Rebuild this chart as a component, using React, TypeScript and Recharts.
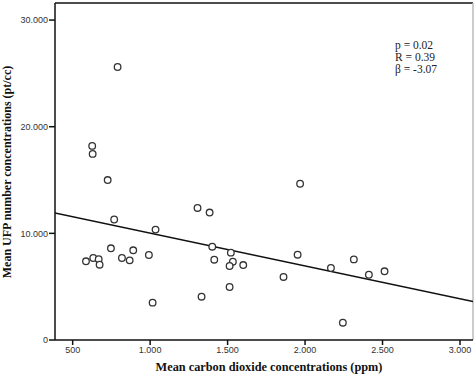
import { ComposedChart, Scatter, XAxis, YAxis, ReferenceLine } from 'recharts'

// CO2 (ppm) vs UFP (pt/cc)
const co2 = [
  790, 626, 629, 726, 768, 1035, 747, 586, 633, 668, 674, 818, 868, 891, 992, 1016,
  1306, 1384, 1401, 1521, 1414, 1534, 1513, 1601, 1332, 1513,
  1968, 1952, 1861, 2167, 2315, 2412, 2513, 2244,
]
const ufp = [
  25600, 18200, 17450, 15000, 11300, 10350, 8600, 7380, 7690, 7570, 7060, 7690, 7470, 8410, 7970, 3500,
  12380, 11950, 8750, 8190, 7530, 7340, 6940, 7030, 4060, 4970,
  14650, 8000, 5910, 6750, 7560, 6120, 6440, 1620,
]

// fitted regression line end points
const fitX = [386, 3084]
const fitY = [11900, 3620]

const xTicks = [500, 1000, 1500, 2000, 2500, 3000]
const yTicks = [0, 10000, 20000, 30000]
const stats = ['p = 0.02', 'R = 0.39', 'β = -3.07']

const points = co2.map((x, i) => ({ x, y: ufp[i] }))
const fit = fitX.map((x, i) => ({ x, y: fitY[i] }))

const fmt = (v: number) => v.toLocaleString('de-DE')

const Ring = (props: any) => (
  <circle cx={props.cx} cy={props.cy} r={3.3} fill="#fff" stroke="#333" strokeWidth={1.3} />
)

export default function App() {
  return (
    <div style={{ position: 'absolute', left: 0, top: 0, background: '#fff' }}>
      <ComposedChart width={474} height={374} margin={{ top: 3, right: 1, bottom: 0, left: 0 }}>
        <XAxis
          type="number"
          dataKey="x"
          domain={[386, 3084]}
          ticks={xTicks}
          tickFormatter={fmt}
          allowDataOverflow
          height={34}
          tickSize={5}
          tickMargin={2}
          stroke="#111"
          strokeWidth={1.5}
          tick={{ fill: '#333', fontSize: 9, fontFamily: 'Liberation Sans' }}
        />
        <YAxis
          type="number"
          dataKey="y"
          domain={[0, 31600]}
          ticks={yTicks}
          tickFormatter={fmt}
          allowDataOverflow
          width={55}
          tickSize={6}
          tickMargin={1}
          stroke="#111"
          strokeWidth={1.5}
          tick={{ fill: '#333', fontSize: 9, fontFamily: 'Liberation Sans' }}
        />
        <ReferenceLine y={31600} stroke="#111" strokeWidth={1.5} />
        <ReferenceLine x={3084} stroke="#bbb" strokeWidth={1.5} />
        <Scatter
          data={fit}
          line={{ stroke: '#111', strokeWidth: 1.5 }}
          shape={() => null}
          isAnimationActive={false}
        />
        <Scatter data={points} shape={Ring} isAnimationActive={false} />
        <text
          x={269}
          y={371}
          textAnchor="middle"
          fontFamily="Liberation Serif"
          fontWeight="bold"
          fontSize={12.3}
          fill="#111"
        >
          Mean carbon dioxide concentrations (ppm)
        </text>
        <text
          transform="translate(10.5,172) rotate(-90)"
          textAnchor="middle"
          fontFamily="Liberation Serif"
          fontWeight="bold"
          fontSize={12}
          fill="#111"
        >
          Mean UFP number concentrations (pt/cc)
        </text>
        {stats.map((s, i) => (
          <text
            key={s}
            x={395}
            y={49 + i * 12}
            fontFamily="Liberation Serif"
            fontSize={11.5}
            fill="#222"
          >
            {s}
          </text>
        ))}
      </ComposedChart>
    </div>
  )
}
